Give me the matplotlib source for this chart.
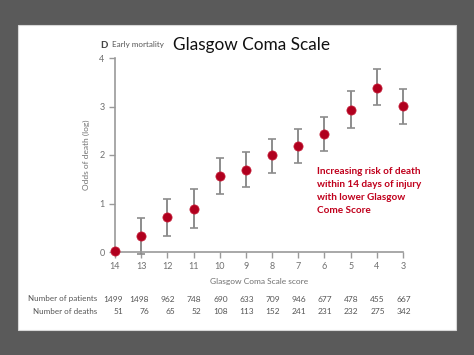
import matplotlib
matplotlib.use('Agg')
import matplotlib.pyplot as plt
from matplotlib.patches import Rectangle

plt.rcParams['font.family'] = ['Lato', 'DejaVu Sans']

# Glasgow Coma Scale score (x), log odds of death, 95% CI
gcs = [14, 13, 12, 11, 10, 9, 8, 7, 6, 5, 4, 3]
odds = [0.03, 0.33, 0.72, 0.89, 1.56, 1.69, 1.99, 2.19, 2.43, 2.93, 3.39, 3.01]
ci_low = [0.03, -0.05, 0.33, 0.50, 1.20, 1.33, 1.62, 1.84, 2.09, 2.56, 3.03, 2.64]
ci_high = [0.03, 0.71, 1.09, 1.30, 1.93, 2.06, 2.34, 2.53, 2.79, 3.31, 3.77, 3.37]
patients = [1499, 1498, 962, 748, 690, 633, 709, 946, 677, 478, 455, 667]
deaths = [51, 76, 65, 52, 108, 113, 152, 241, 231, 232, 275, 342]

W, H = 474, 355
fig = plt.figure(figsize=(W / 100, H / 100), dpi=100)
fig.patch.set_facecolor('#5a5a5a')
fig.patches.append(Rectangle((18 / W, 1 - 330 / H), (456 - 18) / W, (330 - 25) / H,
                             transform=fig.transFigure, facecolor='white',
                             edgecolor='#d8d8d8', lw=0.8, zorder=-1))

ax = fig.add_axes([115 / W, 1 - 252 / H, (403 - 115) / W, (252 - 58) / H])
ax.set_facecolor('none')
ax.set_zorder(2)

grey = '#8c8c8c'
txt = '#707070'
red = '#b0001e'

yerr = [[o - l for o, l in zip(odds, ci_low)], [h - o for o, h in zip(odds, ci_high)]]
ax.errorbar(gcs, odds, yerr=yerr, fmt='none', ecolor=grey, elinewidth=1.4,
            capsize=2.6, capthick=1.2, zorder=2, clip_on=False)
ax.scatter(gcs, odds, s=44, color=red, edgecolor='#c8203a', lw=0.5, zorder=3, clip_on=False)

ax.set_xlim(14, 3)
ax.set_ylim(0, 4)
ax.set_xticks(gcs)
ax.set_yticks([0, 1, 2, 3, 4])
for s in ['top', 'right']:
    ax.spines[s].set_visible(False)
for s in ['left', 'bottom']:
    ax.spines[s].set_color('#9a9a9a')
    ax.spines[s].set_linewidth(1.2)
ax.tick_params(colors='#9a9a9a', labelcolor=txt, labelsize=6.5, length=4, width=1)
ax.set_ylabel('Odds of death (log)', fontsize=6, color=txt, labelpad=7)
ax.set_xlabel('Glasgow Coma Scale score', fontsize=6, color=txt, labelpad=5)

# title pieces
fig.text(100 / W, 1 - 45 / H, 'D', fontsize=7, fontweight='bold', color='#444444', va='center')
fig.text(112 / W, 1 - 45 / H, 'Early mortality', fontsize=5.8, color='#555555', va='center')
fig.text(173 / W, 1 - 45 / H, 'Glasgow Coma Scale', fontsize=12.4, color='#111111', va='center')

# annotation
ax.text(0.7, 0.44, 'Increasing risk of death\nwithin 14 days of injury\nwith lower Glasgow\nCome Score',
        transform=ax.transAxes, fontsize=7.2, fontweight='bold', color='#c0001c',
        va='top', ha='left', linespacing=1.6)

# table below
fig.text(97 / W, 1 - 299 / H, 'Number of patients', fontsize=5.8, color='#555555', ha='right', va='center')
fig.text(97 / W, 1 - 311 / H, 'Number of deaths', fontsize=5.8, color='#555555', ha='right', va='center')
for g, p, d in zip(gcs, patients, deaths):
    xf = fig.transFigure.inverted().transform(ax.transData.transform((g, 0)))[0] + 8 / W
    fig.text(xf, 1 - 299 / H, str(p), fontsize=6, color='#555555', ha='right', va='center')
    fig.text(xf, 1 - 311 / H, str(d), fontsize=6, color='#555555', ha='right', va='center')

fig.savefig('out.png', dpi=100, facecolor=fig.get_facecolor())
